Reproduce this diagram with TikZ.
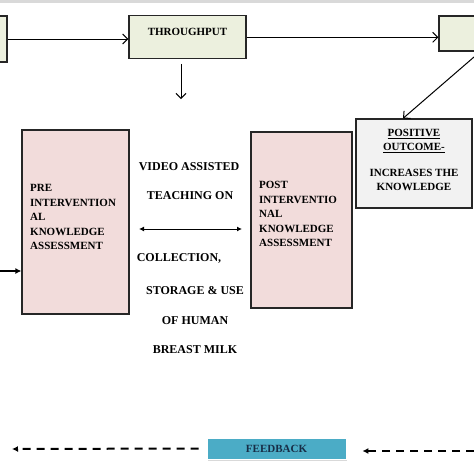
\documentclass[tikz,border=0pt]{standalone}
\usepackage{fontspec}
\setmainfont{Liberation Serif}
\usetikzlibrary{shadows,arrows.meta}

\definecolor{boxgreen}{RGB}{236,240,222}
\definecolor{boxpink}{RGB}{242,220,219}
\definecolor{boxgrey}{RGB}{242,242,242}
\definecolor{fbblue}{RGB}{75,172,198}
\definecolor{fbtext}{RGB}{23,45,70}

\tikzset{
  every node/.style={font=\bfseries\fontsize{11}{14.5}\selectfont},
  stagebox/.style={draw=black!85, line width=1.2pt, inner sep=0pt},
  txt/.style={inner sep=0pt, align=left},
  midtxt/.style={inner sep=0pt, font=\bfseries\fontsize{12}{14.5}\selectfont},
  flow/.style={-{Straight Barb[length=5pt,width=10pt]}, line width=1pt},
  fbline/.style={-{Latex[length=6pt,width=6pt]}, dash pattern=on 8pt off 6pt, line width=2pt},
}

\begin{document}
\begin{tikzpicture}[x=1pt,y=-1pt]
        \useasboundingbox (0,0) rectangle (474,474);
        \clip (0,0) rectangle (474,474);
        \fill[black!15] (0,0) rectangle (474,2.5);
        % top row
        \node[stagebox, fill=boxgreen, minimum width=60, minimum height=46] (input) at (-23,39) {};
        \node[stagebox, fill=boxgreen, minimum width=117, minimum height=43] (thru) at (187.5,37.3) {};
        \node[txt] (thrutxt) at (187.5,32) {THROUGHPUT};
        \node[stagebox, fill=boxgreen, minimum width=72, minimum height=35] (output) at (475,33.5) {};
        \draw[flow] (input.east) -- (input.east -| thru.west);
        \draw[flow] (thru.east) -- (thru.east -| output.west);
        \coordinate (dn) at (181,99);
        \draw[flow] ([yshift=-4.5pt]thru.south -| dn) -- (dn);
        % assessment boxes
        \node[stagebox, fill=boxpink, minimum width=107, minimum height=184] (pre) at (75.5,222) {};
        \node[txt, anchor=west] (pretxt) at (30,217) {PRE\\INTERVENTION\\AL\\KNOWLEDGE\\ASSESSMENT};
        \node[stagebox, fill=boxpink, minimum width=101, minimum height=176] (post) at (301.5,220) {};
        \node[txt, anchor=west] (posttxt) at (259,214) {POST\\INTERVENTIO\\NAL\\KNOWLEDGE\\ASSESSMENT};
        \coordinate (inL) at (0,271);
        \draw[-{Latex[length=6pt,width=6pt]}, line width=1.8pt] (inL) -- (inL -| pre.west);
        % teaching
        \node[midtxt] (t1) at (189,167) {VIDEO ASSISTED};
        \node[midtxt] (t2) at (190,196) {TEACHING ON};
        \coordinate (dl) at (139,229);
        \coordinate (dr) at (242,229);
        \draw[{Latex[length=5pt,width=5pt]}-{Latex[length=5pt,width=5pt]}, line width=1pt] (dl) -- (dr);
        \node[midtxt] (t3) at (179,258) {COLLECTION,};
        \node[midtxt] (t4) at (195,291) {STORAGE \& USE};
        \node[midtxt] (t5) at (195,321) {OF HUMAN};
        \node[midtxt] (t6) at (195,350) {BREAST MILK};
        % outcome
        \node[stagebox, fill=boxgrey, minimum width=116, minimum height=89] (pos) at (414,163.5) {};
        \node[txt, align=center] (postxt) at (414,160) {\underline{POSITIVE}\\\underline{OUTCOME-}\\[11pt]INCREASES THE\\KNOWLEDGE};
        \coordinate (dstart) at (474,57);
        \draw[flow] (dstart) -- ([xshift=-11pt]pos.north);
        % feedback
        \node[fill=fbblue, draw=white, line width=0.8pt, drop shadow={opacity=0.3, shadow xshift=1pt, shadow yshift=-1.5pt},
              minimum width=139, minimum height=21, inner sep=0pt, text=fbtext] (fb) at (276.5,448.5) {FEEDBACK};
        \coordinate (fbL) at (12,449);
        \coordinate (fbR) at (474,451);
        \draw[fbline] ([xshift=-8pt]fb.west) -- (fbL);
        \draw[fbline] (fbR) -- ([xshift=16pt]fb.east |- fbR);
    \end{tikzpicture}
\end{document}
